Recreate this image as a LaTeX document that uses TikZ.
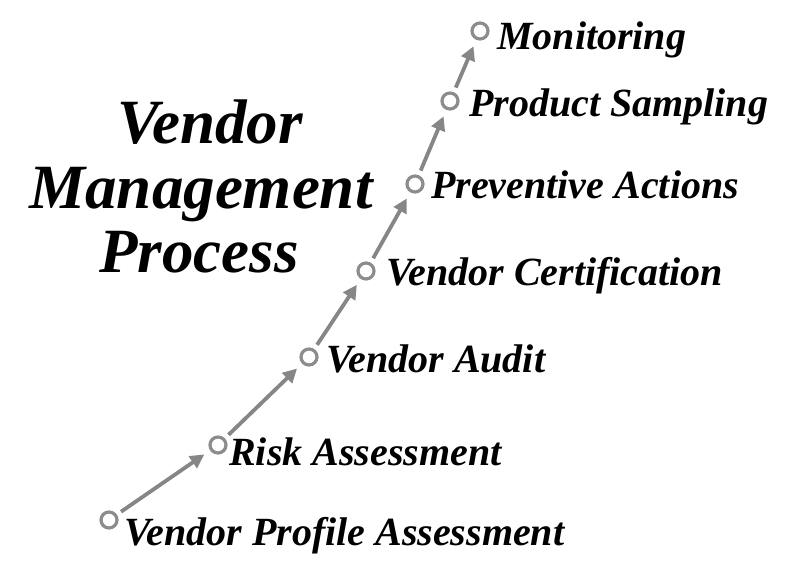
\documentclass[tikz,border=0pt]{standalone}
\usepackage{fontspec}
\setmainfont{Liberation Serif}
\usetikzlibrary{arrows.meta}
\begin{document}
\begin{tikzpicture}[x=1pt,y=-1pt,
  stepdot/.style={circle,draw=gray!90,line width=3.2pt,minimum size=16pt,inner sep=0pt,fill=white},
  steplabel/.style={anchor=base west,font=\fontsize{40}{40}\selectfont\bfseries\itshape,inner sep=0pt},
  titletext/.style={anchor=base,font=\fontsize{63}{63}\selectfont\bfseries\itshape,inner sep=0pt},
  steparrow/.style={draw=gray!95,line width=3.8pt,-{Triangle[length=14pt,width=14pt]},shorten <=5pt,shorten >=7pt}]
\useasboundingbox (0,0) rectangle (800,575);
\node[stepdot] (c1) at (109,520) {};
\node[stepdot] (c2) at (218,445) {};
\node[stepdot] (c3) at (309,357) {};
\node[stepdot] (c4) at (366,271) {};
\node[stepdot] (c5) at (415,184) {};
\node[stepdot] (c6) at (450,101) {};
\node[stepdot] (c7) at (480,31) {};
\node[steplabel] (l1) at (124,545) {Vendor Profile Assessment};
\node[steplabel] (l2) at (229,465) {Risk Assessment};
\node[steplabel] (l3) at (326,372) {Vendor Audit};
\node[steplabel] (l4) at (386,285) {Vendor Certification};
\node[steplabel] (l5) at (431,198) {Preventive Actions};
\node[steplabel] (l6) at (469,117) {Product Sampling};
\node[steplabel] (l7) at (497,50) {Monitoring};
\node[titletext] (t1) at (210,143) {Vendor};
\node[titletext] (t2) at (201,208) {Management};
\node[titletext] (t3) at (199,272) {Process};
\draw[steparrow] (c1) -- (c2);
\draw[steparrow] (c2) -- (c3);
\draw[steparrow] (c3) -- (c4);
\draw[steparrow] (c4) -- (c5);
\draw[steparrow] (c5) -- (c6);
\draw[steparrow] (c6) -- (c7);
\end{tikzpicture}
\end{document}
